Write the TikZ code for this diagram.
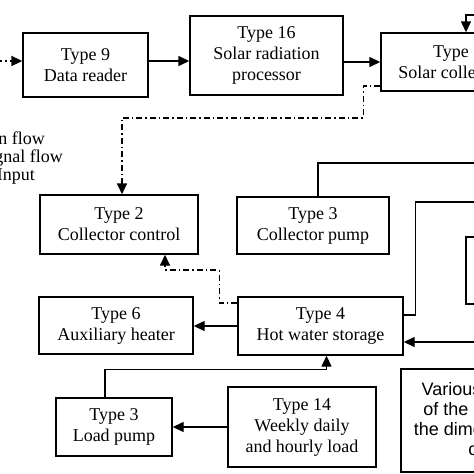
\documentclass[tikz,border=0pt]{standalone}
\usepackage{fontspec}
\setmainfont{Liberation Serif}
\newfontfamily\notefont{Liberation Sans}
\usetikzlibrary{arrows.meta}

\tikzset{
  unit/.style={draw, line width=1.4pt, align=center, inner sep=0pt,
    font=\fontsize{18}{21}\selectfont},
  flow/.style={line width=1.4pt, -{Triangle[length=11pt,width=10pt]}},
  wire/.style={line width=1.4pt},
  signal/.style={line width=1.6pt, dash pattern=on 6pt off 3pt on 1.5pt off 3pt,
    -{Triangle[length=11pt,width=10pt]}},
  feed/.style={line width=2pt, dash pattern=on 2pt off 3pt,
    -{Triangle[length=11pt,width=10pt]}},
  legend/.style={anchor=east, inner sep=0pt, font=\fontsize{18}{21}\selectfont}
}

\begin{document}
\begin{tikzpicture}[x=1pt, y=-1pt]
    \useasboundingbox (0,0) rectangle (474,474);
    \clip (0,0) rectangle (474,474);
    \fill[white] (0,0) rectangle (474,474);

    % top row
    \node[unit, minimum width=125pt, minimum height=64pt] (rdr) at (85.5,65) {Type 9\\Data reader};
    \node[unit, minimum width=153pt, minimum height=79pt] (rad) at (266.5,55.5) {Type 16\\Solar radiation\\processor};
    \node[unit, minimum width=140pt, minimum height=58pt] (col) at (451,62) {Type\\Solar collector};

    % legend
    \node[legend] (leg1) at (45,138) {Information flow};
    \node[legend] (leg2) at (63,158) {Signal flow};
    \node[legend] (leg3) at (35,177) {Input};

    % middle rows
    \node[unit, minimum width=158pt, minimum height=59pt] (ctl) at (119,224.5) {Type 2\\Collector control};
    \node[unit, minimum width=152pt, minimum height=57pt] (cpump) at (313,225.5) {Type 3\\Collector pump};
    \node[unit, minimum width=148pt, minimum height=67pt] (plot) at (540,270.5) {};
    \node[unit, minimum width=154pt, minimum height=57pt] (aux) at (116,325.5) {Type 6\\Auxiliary heater};
    \node[unit, minimum width=165pt, minimum height=58pt] (tank) at (320.5,326) {Type 4\\Hot water storage};

    % bottom row
    \node[unit, minimum width=116pt, minimum height=58pt] (lpump) at (114,427) {Type 3\\Load pump};
    \node[unit, minimum width=148pt, minimum height=80pt] (load) at (302,427) {Type 14\\Weekly daily\\and hourly load};
    \node[unit, minimum width=197pt, minimum height=103pt, font=\notefont\fontsize{18}{20}\selectfont] (var) at (499.5,420.5)
        {Various parameters\\of the collector and\\the dimensions of the\\cylinder};

    % loose ends
    \coordinate (input) at (-20,61);
    \coordinate (loopin) at (520,15);
    \coordinate (pumpout) at (520,163);
    \coordinate (tankout) at (520,202);
    \coordinate (heatin) at (520,342);

    % connectors
    \draw[feed] (input) -- (rdr.west |- input);
    \draw[flow] ([yshift=4pt]rdr.east) -- ([yshift=4pt]rdr.east -| rad.west);
    \draw[flow] (rad.east |- col.west) -- (col.west);
    \draw[flow] (loopin) -| ([xshift=15pt]col.north);
    \draw[signal] ([yshift=6pt]col.south west) -- ++(-17,0) -- ++(0,32) -| ([xshift=3pt]ctl.north);
    \draw[wire] ([xshift=5pt]cpump.north) |- (pumpout);
    \draw[wire] ([yshift=11pt]tank.east) -- ++(12,0) |- (tankout);
    \draw[flow] (heatin) -- (heatin -| tank.east);
    \draw[flow] (tank.west) -- (tank.west -| aux.east);
    \draw[signal] ([yshift=23pt]tank.west) -- ++(-18,0) -- ++(0,-33) -| ([xshift=46pt]ctl.south);
    \draw[flow] ([xshift=-9pt]lpump.north) -- ++(0,-28) -| ([xshift=6pt]tank.south);
    \draw[flow] (load.west) -- (lpump.east);
\end{tikzpicture}
\end{document}
